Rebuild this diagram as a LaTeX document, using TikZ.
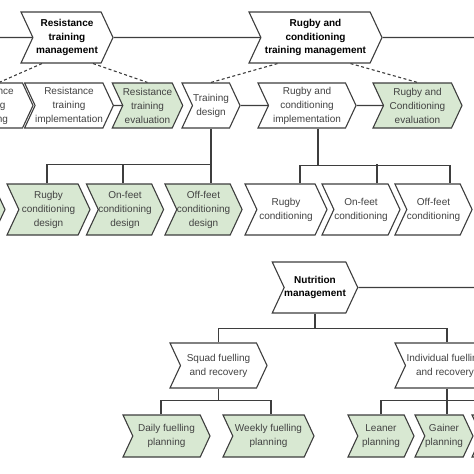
\documentclass[tikz,border=0pt]{standalone}
\usepackage{fontspec}
\setmainfont{Liberation Sans}
\usetikzlibrary{shapes.symbols}
\definecolor{stagegreen}{RGB}{216,232,210}
\definecolor{linegrey}{RGB}{62,62,62}
\definecolor{textgrey}{RGB}{66,66,66}

\begin{document}
\begin{tikzpicture}[x=1pt,y=-1pt,line width=1.1pt,color=linegrey,stage/.style={signal,signal to=east,signal from=west,signal pointer angle=130,draw=linegrey,fill=white,text=textgrey,inner sep=0pt,align=center,font=\fontsize{10}{14}\selectfont,minimum height=45pt},mgmt/.style={stage,text=black,font=\fontsize{10}{13.5}\selectfont\bfseries,minimum height=51pt},done/.style={stage,fill=stagegreen},plan/.style={dash pattern=on 3pt off 2.5pt}]
    \useasboundingbox (0,0) rectangle (474,474);
    \coordinate (w0) at (0,37.5);
    \coordinate (e0) at (474,37.5);
    \coordinate (e1) at (474,287.5);

    \node[mgmt,minimum width=92pt] (rtm) at (67,37.5) {Resistance\\training\\management};
    \node[mgmt,minimum width=133pt] (rctm) at (315.5,37.5) {Rugby and\\conditioning\\training management};

    \node[stage,minimum width=88pt] (rtp) at (-11,105.5) {Resistance\\training\\planning};
    \node[stage,minimum width=88pt] (rti) at (69,105.5) {Resistance\\training\\implementation};
    \node[done,minimum width=65pt] (rte) at (147.5,105.5) {Resistance\\training\\evaluation};
    \node[stage,minimum width=58pt] (td) at (211,105.5) {Training\\design};
    \node[stage,minimum width=98pt] (rci) at (307,105.5) {Rugby and\\conditioning\\implementation};
    \node[done,minimum width=89pt] (rce) at (417.5,105.5) {Rugby and\\Conditioning\\evaluation};

    \node[done,minimum width=80pt,minimum height=51pt] (rcx) at (-35,209.5) {};
    \node[done,minimum width=83pt,minimum height=51pt] (rcd) at (48.5,209.5) {Rugby\\conditioning\\design};
    \node[done,minimum width=76pt,minimum height=51pt] (ofcd) at (125,209.5) {On-feet\\conditioning\\design};
    \node[done,minimum width=73pt,minimum height=51pt] (offcd) at (203.5,209.5) {Off-feet\\conditioning\\design};
    \node[stage,minimum width=82pt,minimum height=51pt] (rc) at (286,209.5) {Rugby\\conditioning};
    \node[stage,minimum width=78pt,minimum height=51pt] (oc) at (361,209.5) {On-feet\\conditioning};
    \node[stage,minimum width=77pt,minimum height=51pt] (offc) at (433.5,209.5) {Off-feet\\conditioning};

    \node[mgmt,minimum width=84pt] (nm) at (315,287.5) {Nutrition\\management};
    \node[stage,minimum width=97pt] (sfr) at (218.5,365.5) {Squad fuelling\\and recovery};
    \node[stage,minimum width=100pt] (ifr) at (445,365.5) {Individual fuelling\\and recovery};

    \node[done,minimum width=87pt,minimum height=42pt] (dfp) at (166.5,436) {Daily fuelling\\planning};
    \node[done,minimum width=91pt,minimum height=42pt] (wfp) at (268.5,436) {Weekly fuelling\\planning};
    \node[done,minimum width=66pt,minimum height=42pt] (lp) at (381,436) {Leaner\\planning};
    \node[done,minimum width=58pt,minimum height=42pt] (gp) at (444,436) {Gainer\\planning};
    \node[done,minimum width=66pt,minimum height=42pt] (nx) at (505,436) {};

    \path
        (w0) edge (rtm)
        (rtm) edge (rctm)
        (rctm) edge (e0)
        (rti) edge (rte)
        (td) edge (rci)
        (rci) edge (rce)
        (nm) edge (e1)
        ;

    \path[plan]
        ([xshift=-25pt]rtm.south) edge ([xshift=10pt]rtp.north)
        ([xshift=26pt]rtm.south) edge (rte.north)
        ([xshift=-38pt]rctm.south) edge (td.north)
        ([xshift=35pt]rctm.south) edge (rce.north)
        ;

    \draw (td.south) -- ([xshift=7.5pt]offcd.north);
    \draw ([xshift=-1.5pt]rcd.north) -- ++(0,-19) -| (td.south);
    \draw ([xshift=-2pt]ofcd.north) -- ++(0,-19);

    \draw ([xshift=11pt]rci.south) -- ++(0,37) coordinate (rcj);
    \draw ([xshift=14pt]rc.north) |- (rcj) -| ([xshift=16.5pt]offc.north);
    \draw ([xshift=16pt]oc.north) -- ++(0,-19);

    \draw (nm.south) -- ++(0,15) coordinate (nmj);
    \draw (sfr.north) |- (nmj) -| ([xshift=2pt]ifr.north);

    \draw (sfr.south) -- ++(0,12) coordinate (sfj);
    \draw ([xshift=-5.5pt]dfp.north) |- (sfj) -| ([xshift=2.5pt]wfp.north);

    \draw ([xshift=2pt]ifr.south) -- ++(0,12) coordinate (ifj);
    \draw (lp.north) |- (ifj) -| (nx.north);
    \draw ([xshift=3pt]gp.north) -- ++(0,-15);
\end{tikzpicture}
\end{document}
